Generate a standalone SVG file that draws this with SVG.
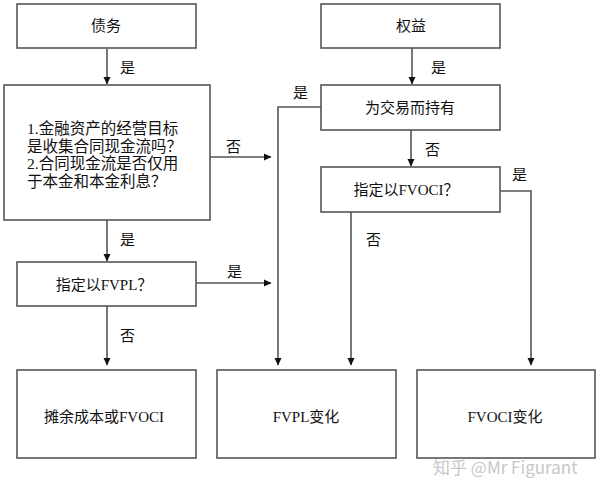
<svg xmlns="http://www.w3.org/2000/svg" width="600" height="494" viewBox="0 0 600 494">
<defs>
<marker id="arr" markerWidth="8" markerHeight="8" refX="7" refY="4" orient="auto" markerUnits="userSpaceOnUse">
<path d="M0,0.5 L7.5,4 L0,7.5 Z" fill="#111"/>
</marker>
</defs>
<style>
.box{fill:#fff;stroke:#555;stroke-width:1.6}
.t{font-family:"Liberation Serif","Noto Sans CJK SC",serif;font-size:15px;fill:#111}
.c{text-anchor:middle}
.ln{fill:none;stroke:#555;stroke-width:1.6}
.wm{font-family:"Noto Sans CJK SC","Liberation Sans",sans-serif;font-size:17px;fill:#c8c8c8}
</style>
<rect width="600" height="494" fill="#fff"/>
<g id="connectors">
<line class="ln" x1="107" y1="49" x2="107" y2="84" marker-end="url(#arr)"/>
<text class="t" x="120" y="73">是</text>
<line class="ln" x1="210" y1="157" x2="271" y2="157" marker-end="url(#arr)"/>
<text class="t" x="226" y="152">否</text>
<line class="ln" x1="107" y1="220" x2="107" y2="261" marker-end="url(#arr)"/>
<text class="t" x="120" y="245">是</text>
<line class="ln" x1="196" y1="283" x2="271" y2="283" marker-end="url(#arr)"/>
<text class="t" x="227" y="277">是</text>
<line class="ln" x1="107" y1="306" x2="107" y2="365" marker-end="url(#arr)"/>
<text class="t" x="120" y="341">否</text>
<line class="ln" x1="412" y1="48" x2="412" y2="84" marker-end="url(#arr)"/>
<text class="t" x="431" y="73">是</text>
<polyline class="ln" points="321,107 278,107 278,365" marker-end="url(#arr)"/>
<text class="t" x="293" y="98">是</text>
<line class="ln" x1="411" y1="130" x2="411" y2="166" marker-end="url(#arr)"/>
<text class="t" x="425" y="155">否</text>
<polyline class="ln" points="500,191 531,191 531,365" marker-end="url(#arr)"/>
<text class="t" x="512" y="180">是</text>
<line class="ln" x1="351" y1="212" x2="351" y2="365" marker-end="url(#arr)"/>
<text class="t" x="366" y="245">否</text>
</g>
<g id="debt">
<rect class="box" x="17" y="4" width="179" height="44"/>
<text class="t c" x="106" y="31">债务</text>
</g>
<g id="equity">
<rect class="box" x="321" y="4" width="179" height="44"/>
<text class="t c" x="411" y="31">权益</text>
</g>
<g id="test">
<rect class="box" x="4" y="85" width="206" height="135"/>
<text class="t" x="27" y="134" style="font-size:15.5px">1.金融资产的经营目标</text>
<text class="t" x="27" y="151.5" style="font-size:15.5px">是收集合同现金流吗？</text>
<text class="t" x="27" y="169" style="font-size:15.5px">2.合同现金流是否仅用</text>
<text class="t" x="27" y="186.5" style="font-size:15.5px">于本金和本金利息？</text>
</g>
<g id="trading">
<rect class="box" x="321" y="85" width="179" height="45"/>
<text class="t c" x="410" y="113">为交易而持有</text>
</g>
<g id="fvoci-designate">
<rect class="box" x="321" y="167" width="179" height="45"/>
<text class="t c" x="406" y="195">指定以FVOCI？</text>
</g>
<g id="fvpl-designate">
<rect class="box" x="17" y="262" width="179" height="44"/>
<text class="t c" x="104" y="290">指定以FVPL？</text>
</g>
<g id="amortised">
<rect class="box" x="17" y="370" width="179" height="88"/>
<text class="t c" x="104" y="422">摊余成本或FVOCI</text>
</g>
<g id="fvpl">
<rect class="box" x="217" y="370" width="179" height="88"/>
<text class="t c" x="306" y="422">FVPL变化</text>
</g>
<g id="fvoci">
<rect class="box" x="417" y="370" width="178" height="88"/>
<text class="t c" x="505" y="422">FVOCI变化</text>
</g>
<text class="wm" x="433" y="474">知乎 @Mr Figurant</text>
</svg>
